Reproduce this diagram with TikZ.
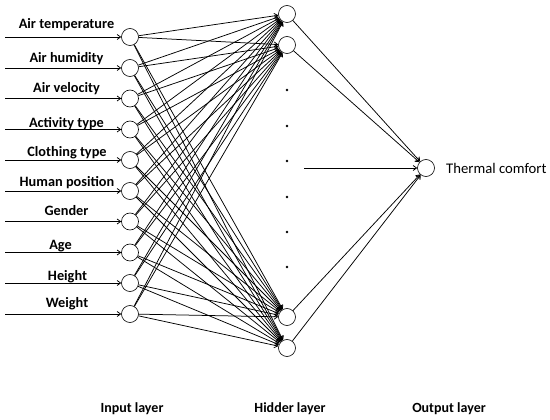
\documentclass[tikz,border=0pt]{standalone}
\usepackage{fontspec}
\setmainfont{Carlito}
\usetikzlibrary{arrows.meta}
\begin{document}
\begin{tikzpicture}[x=1pt,y=-1pt,
  neuron/.style={draw,circle,minimum size=17pt,inner sep=0pt,line width=0.6pt},
  conn/.style={line width=0.75pt,-{Straight Barb[length=3.5pt,width=5pt]}},
  inlabel/.style={font=\fontsize{14.3}{16}\selectfont\bfseries,anchor=base,inner sep=0pt},
  laylabel/.style={font=\fontsize{14}{16}\selectfont\bfseries,anchor=base,inner sep=0pt},
  dotmark/.style={fill,circle,inner sep=0pt,minimum size=2.8pt}]
\useasboundingbox (0,0) rectangle (550,420);
% input layer
\foreach \i/\y in {1/37,2/68,3/98.5,4/129.5,5/160,6/191,7/221.5,8/252.5,9/283,10/314}{
  \node[neuron] (in\i) at (130,\y) {};
  \coordinate (s\i) at (5,\y);
  \draw[conn] (s\i) -- (in\i);
}
\node[inlabel] (l1) at (66.5,29) {Air temperature};
\node[inlabel] (l2) at (66.5,63) {Air humidity};
\node[inlabel] (l3) at (66.5,93) {Air velocity};
\node[inlabel] (l4) at (66.5,128) {Activity type};
\node[inlabel] (l5) at (67,157) {Clothing type};
\node[inlabel] (l6) at (67,186) {Human position};
\node[inlabel] (l7) at (66.5,215) {Gender};
\node[inlabel] (l8) at (60.5,250) {Age};
\node[inlabel] (l9) at (67.5,280) {Height};
\node[inlabel] (l10) at (67,307) {Weight};
% hidden layer
\node[neuron] (h1) at (287,14) {};
\node[neuron] (h2) at (287,45) {};
\node[neuron] (h3) at (287,317) {};
\node[neuron] (h4) at (287,348) {};
\foreach \y [count=\k] in {90,126,161,197,232,267}{
  \node[dotmark] (d\k) at (287,\y) {};
}
% output
\node[neuron] (out) at (426,168) {};
\node[anchor=west,inner sep=0pt,font=\fontsize{14.7}{16}\selectfont] (tc) at (446,168) {Thermal comfort};
% connections input -> hidden
\foreach \i in {1,...,10}{
  \foreach \h in {1,...,4}{
    \draw[conn] (in\i) -- (h\h);
  }
}
% hidden -> output
\foreach \h in {1,...,4}{
  \draw[conn] (h\h) -- (out);
}
\coordinate (mid) at (304,168);
\draw[conn] (mid) -- (out);
% layer labels
\node[laylabel] (il) at (132,412) {Input layer};
\node[laylabel] (hl) at (290,412) {Hidder layer};
\node[laylabel] (ol) at (449,412) {Output layer};
\end{tikzpicture}
\end{document}
